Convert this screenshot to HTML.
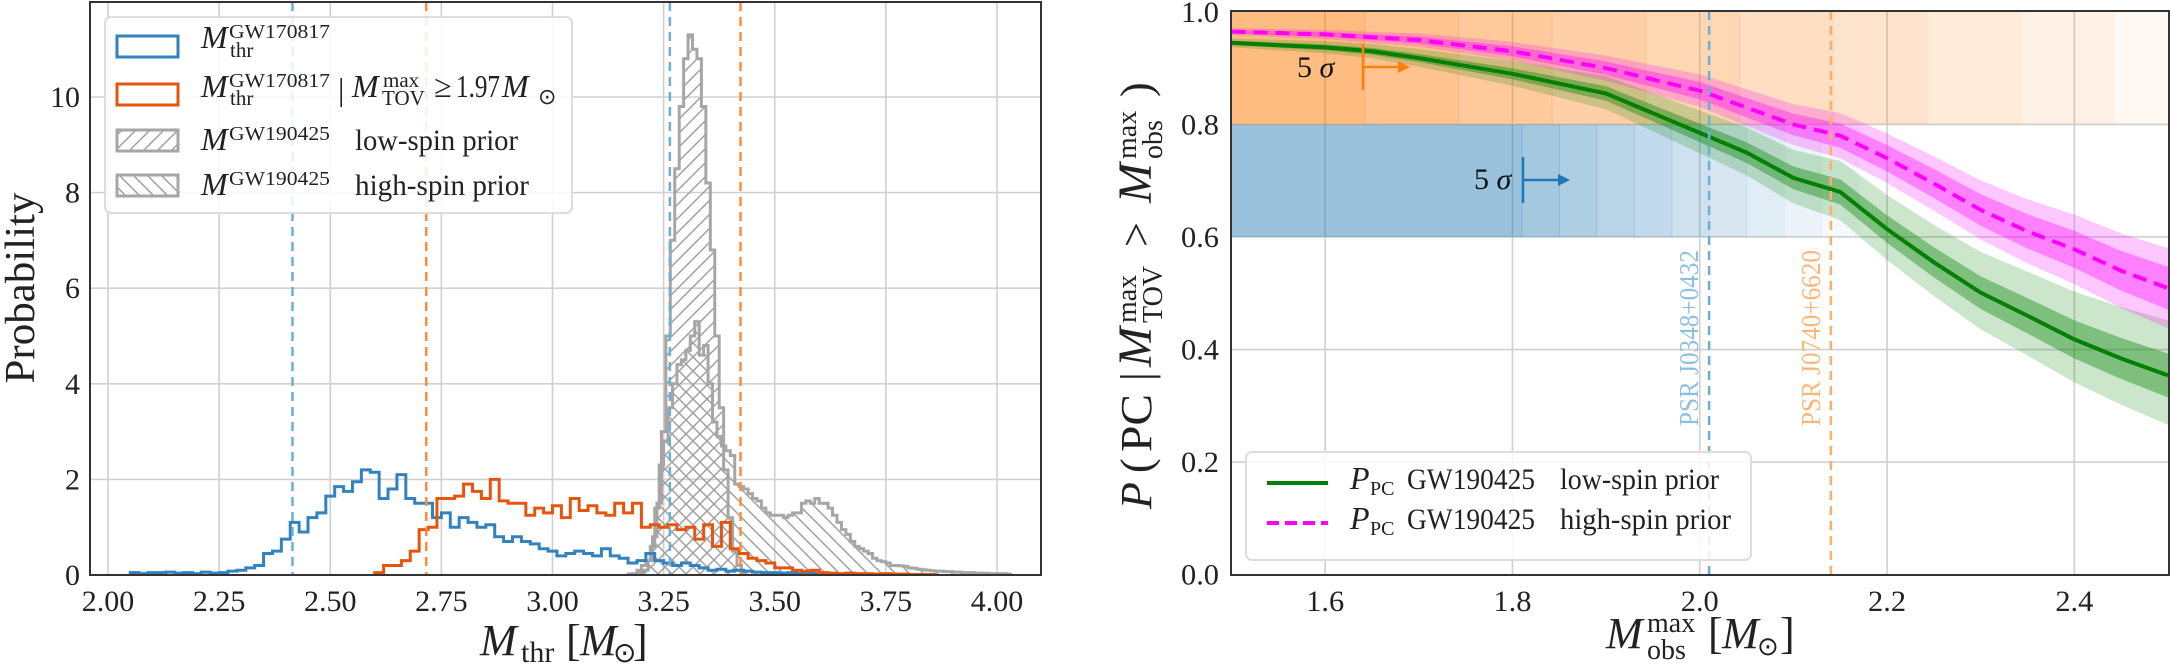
<!DOCTYPE html>
<html><head><meta charset="utf-8"><style>
html,body{margin:0;padding:0;background:#fff;}
svg{display:block;font-family:"Liberation Serif",serif;}
</style></head><body>
<svg id="s" width="2170" height="665" viewBox="0 0 2170 665" xmlns="http://www.w3.org/2000/svg">
<defs>
<pattern id="hf" patternUnits="userSpaceOnUse" width="14" height="14"><path d="M-2,2 L2,-2 M0,14 L14,0 M12,16 L16,12" stroke="#a0a0a0" stroke-width="1.5"/></pattern>
<pattern id="hb" patternUnits="userSpaceOnUse" width="14" height="14"><path d="M-2,12 L2,16 M0,0 L14,14 M12,-2 L16,2" stroke="#a0a0a0" stroke-width="1.5"/></pattern>
<clipPath id="cl"><rect x="90" y="2" width="951" height="573"/></clipPath>
<clipPath id="cr"><rect x="1231" y="11" width="938" height="564"/></clipPath>
</defs>
<g id="g"></g>
</svg>
<script>
let H="";
const LX=v=>108+(v-2)*444.5, LY=p=>575-p*47.8;
const RX=v=>1231.5+(v-1.5)*936.5, RY=p=>574.6-p*562.7;
function step(s,w,vals){let d=`M${LX(s)},${LY(0)}`;vals.forEach((v,i)=>{d+=`L${LX(s+i*w)},${LY(v)}L${LX(s+(i+1)*w)},${LY(v)}`});return d+`L${LX(s+vals.length*w)},${LY(0)}`;}
for(let v=2;v<=4.001;v+=0.25)H+=`<line x1="${LX(v)}" y1="2" x2="${LX(v)}" y2="575" stroke="#d0d0d0" stroke-width="1.6"/>`;
for(let p=2;p<=10;p+=2)H+=`<line x1="90" y1="${LY(p)}" x2="1041" y2="${LY(p)}" stroke="#d0d0d0" stroke-width="1.6"/>`;
H+=`<g clip-path="url(#cl)">`;
const low=[0.03,0.05,0.1,0.3,0.8,1.5,3.0,5.0,7.0,8.5,9.8,10.8,11.3,11.0,10.8,9.8,8.2,6.8,5.0,3.5,2.2,1.2,0.5,0.2,0.05];
const high=[0.02,0.03,0.1,0.2,0.3,0.6,1.4,2.3,2.8,3.5,4.0,4.4,4.5,4.7,5.0,5.3,4.6,4.8,4.0,3.2,2.9,2.7,2.6,2.5,1.9,1.85,1.8,1.7,1.6,1.55,1.4,1.3,1.25,1.25,1.25,1.2,1.25,1.3,1.3,1.5,1.55,1.5,1.6,1.5,1.5,1.4,1.25,1.1,0.95,0.85,0.7,0.6,0.55,0.5,0.45,0.35,0.3,0.28,0.25,0.2,0.2,0.19,0.18,0.15,0.14,0.12,0.11,0.1,0.09,0.08,0.08,0.07,0.07,0.06,0.06,0.05,0.05,0.05,0.04,0.04,0.04,0.03,0.03,0.03,0.03,0.02];
H+=`<path d="${step(3.185,0.01,low)}" fill="url(#hf)" stroke="#a6a6a6" stroke-width="3"/>`;
H+=`<path d="${step(3.17,0.01,high)}" fill="url(#hb)" stroke="#a6a6a6" stroke-width="3"/>`;
const blue=[0.05,0.03,0.05,0.05,0.06,0.04,0.05,0.03,0.06,0.04,0.05,0.08,0.1,0.15,0.2,0.45,0.5,0.75,1.1,0.9,1.2,1.3,1.65,1.85,1.75,1.95,2.2,2.15,1.6,1.8,2.1,1.6,1.5,1.5,1.2,1.3,1.0,1.2,1.1,1.0,1.05,0.8,0.7,0.8,0.7,0.65,0.55,0.5,0.4,0.45,0.5,0.45,0.4,0.55,0.4,0.35,0.25,0.3,0.45,0.3,0.25,0.2,0.25,0.2,0.15,0.1,0.12,0.08,0.1,0.08,0.06,0.05,0.05,0.04,0.05,0.03,0.04,0.03,0.03,0.02,0.02,0.01];
const orng=[0.05,0.2,0.2,0.3,0.5,0.95,1.0,1.6,1.6,1.65,1.9,1.75,1.6,2.0,1.55,1.5,1.5,1.25,1.4,1.3,1.45,1.2,1.6,1.35,1.45,1.3,1.25,1.5,1.3,1.5,1.0,1.05,1.0,1.05,0.95,1.0,0.75,1.05,0.6,1.1,0.55,0.45,0.35,0.3,0.25,0.15,0.15,0.1,0.08,0.1,0.05,0.04,0.03,0.04,0.03,0.03,0.02,0.03,0.02,0.02,0.01,0.01,0.01];
H+=`<path d="${step(2.05,0.02,blue)}" fill="none" stroke="#3182bd" stroke-width="3"/>`;
H+=`<path d="${step(2.60,0.02,orng)}" fill="none" stroke="#e6550d" stroke-width="3"/>`;
[[2.415,"#6baed6"],[3.264,"#6baed6"],[2.716,"#fd8d3c"],[3.423,"#fd8d3c"]].forEach(([v,c])=>H+=`<line x1="${LX(v)}" y1="2" x2="${LX(v)}" y2="575" stroke="${c}" stroke-width="2.5" stroke-dasharray="9,6"/>`);
H+=`</g><rect x="90" y="2" width="951" height="573" fill="none" stroke="#333" stroke-width="2"/>`;
for(let i=0;i<=8;i++){const v=2+i*0.25;H+=`<text x="${LX(v)}" y="611" font-size="30" text-anchor="middle" fill="#222">${v.toFixed(2)}</text>`;}
for(let p=0;p<=10;p+=2)H+=`<text x="80" y="${LY(p)+10}" font-size="30" text-anchor="end" fill="#222">${p}</text>`;
H+=`<text transform="translate(34,288) rotate(-90)" font-size="42" text-anchor="middle" textLength="191" lengthAdjust="spacingAndGlyphs" fill="#222">Probability</text>`;
H+=`<text y="655" font-size="44" fill="#222"><tspan x="480" font-style="italic">M</tspan><tspan x="521" y="662" font-size="30">thr</tspan><tspan x="566" y="655">[</tspan><tspan x="580" font-style="italic">M</tspan><tspan x="613" y="662" font-size="28">⊙</tspan><tspan x="633" y="655">]</tspan></text>`;
H+=`<rect x="105" y="17" width="467" height="196" rx="6" fill="#fff" fill-opacity="0.85" stroke="#ddd" stroke-width="2"/>`;
H+=`<rect x="117" y="36" width="61" height="21" fill="none" stroke="#3182bd" stroke-width="3"/>`;
H+=`<rect x="117" y="84" width="61" height="21" fill="none" stroke="#e6550d" stroke-width="3"/>`;
H+=`<rect x="117" y="130" width="61" height="21" fill="url(#hf)" stroke="#a6a6a6" stroke-width="3"/>`;
H+=`<rect x="117" y="175" width="61" height="21" fill="url(#hb)" stroke="#a6a6a6" stroke-width="3"/>`;
const T=(x,y,s,t,it,extra="")=>`<text x="${x}" y="${y}" font-size="${s}" fill="#222" ${it?'font-style="italic"':''} ${extra}>${t}</text>`;
const LA='lengthAdjust="spacingAndGlyphs"';
H+=T(201,48,32,"M",1)+T(229,38,20,"GW170817",0,'textLength="101" '+LA)+T(230,57,21,"thr");
H+=T(201,97,32,"M",1)+T(229,87,20,"GW170817",0,'textLength="101" '+LA)+T(230,105,21,"thr");
H+=T(338,100,32,"|")+T(352,97,32,"M",1)+T(383,87,21,"max")+T(382,105,21,"TOV")+T(434,97,32,"≥")+T(456,97,32,"1.97",0,'textLength="44" '+LA)+T(502,97,32,"M",1)+T(538,104,22,"⊙");
H+=T(201,150,32,"M",1)+T(229,140,20,"GW190425",0,'textLength="101" '+LA)+T(355,150,30,"low-spin prior",0,'textLength="163" '+LA);
H+=T(201,195,32,"M",1)+T(229,185,20,"GW190425",0,'textLength="101" '+LA)+T(355,195,30,"high-spin prior",0,'textLength="174" '+LA);
// RIGHT
for(let v=1.6;v<=2.41;v+=0.2)H+=`<line x1="${RX(v)}" y1="11" x2="${RX(v)}" y2="575" stroke="#d0d0d0" stroke-width="1.6"/>`;
for(let p=0.2;p<=0.81;p+=0.2)H+=`<line x1="1231" y1="${RY(p)}" x2="2169" y2="${RY(p)}" stroke="#d0d0d0" stroke-width="1.6"/>`;
H+=`<g clip-path="url(#cr)">`;
for(let k=0;k<10;k++){const a=k==0?1.5:1.642+(k-1)*0.1,b=1.642+k*0.1;const al=0.52*(1-k/10);
H+=`<rect x="${RX(a)}" y="${RY(1)}" width="${RX(b)-RX(a)+0.5}" height="${RY(0.8)-RY(1)}" fill="rgb(255,127,14)" fill-opacity="${al}"/>`;}
for(let k=0;k<10;k++){const a=k==0?1.5:1.81+(k-1)*0.04,b=1.81+k*0.04;const al=0.45*(1-k/10);
H+=`<rect x="${RX(a)}" y="${RY(0.8)}" width="${RX(b)-RX(a)+0.5}" height="${RY(0.6)-RY(0.8)}" fill="rgb(31,119,180)" fill-opacity="${al}"/>`;}
const xs=[1.5,1.6,1.65,1.7,1.8,1.9,1.95,2.0,2.05,2.1,2.15,2.2,2.25,2.3,2.35,2.4,2.45,2.5];
const gr=[0.945,0.937,0.93,0.918,0.89,0.855,0.82,0.785,0.75,0.705,0.68,0.614,0.555,0.501,0.46,0.418,0.384,0.354];
const mg=[0.965,0.96,0.955,0.95,0.93,0.9,0.88,0.86,0.83,0.8,0.78,0.74,0.695,0.648,0.61,0.578,0.54,0.509];
function band(ys,f){let up=xs.map((x,i)=>`${RX(x)},${RY(ys[i]+f(x)[1])}`),dn=xs.map((x,i)=>`${RX(x)},${RY(ys[i]-f(x)[0])}`).reverse();return "M"+up.join("L")+"L"+dn.join("L")+"Z";}
const t=x=>Math.max(0,(x-1.5))/1.0;
H+=`<path d="${band(gr,x=>[0.008+0.08*t(x)**1.5,0.008+0.09*t(x)**1.5])}" fill="green" fill-opacity="0.2"/>`;
H+=`<path d="${band(gr,x=>[0.004+0.035*t(x)**1.5,0.004+0.035*t(x)**1.5])}" fill="green" fill-opacity="0.38"/>`;
H+=`<path d="${band(mg,x=>[0.006+0.065*t(x)**1.5,0.006+0.065*t(x)**1.5])}" fill="#ff00ff" fill-opacity="0.22"/>`;
H+=`<path d="${band(mg,x=>[0.003+0.035*t(x)**1.5,0.003+0.035*t(x)**1.5])}" fill="#ff00ff" fill-opacity="0.35"/>`;
H+=`<polyline points="${xs.map((x,i)=>RX(x)+","+RY(gr[i])).join(" ")}" fill="none" stroke="#008000" stroke-width="4"/>`;
H+=`<polyline points="${xs.map((x,i)=>RX(x)+","+RY(mg[i])).join(" ")}" fill="none" stroke="#ff00ff" stroke-width="4" stroke-dasharray="14,8"/>`;
H+=`<line x1="${RX(2.01)}" y1="11" x2="${RX(2.01)}" y2="575" stroke="#6baed6" stroke-width="2.5" stroke-dasharray="9,6"/>`;
H+=`<line x1="${RX(2.14)}" y1="11" x2="${RX(2.14)}" y2="575" stroke="#fdae6b" stroke-width="2.5" stroke-dasharray="9,6"/>`;
H+=`</g><rect x="1231" y="11" width="938" height="564" fill="none" stroke="#333" stroke-width="2"/>`;
H+=`<text x="1297" y="77" font-size="30" fill="#111">5 <tspan font-style="italic">σ</tspan></text>`;
H+=`<line x1="1363" y1="44" x2="1363" y2="90" stroke="#ff7f0e" stroke-width="2.5"/><line x1="1363" y1="67" x2="1400" y2="67" stroke="#ff7f0e" stroke-width="2.5"/><path d="M1398,61 L1410,67 L1398,73 Z" fill="#ff7f0e"/>`;
H+=`<text x="1474" y="189" font-size="30" fill="#111">5 <tspan font-style="italic">σ</tspan></text>`;
H+=`<line x1="1523" y1="157" x2="1523" y2="203" stroke="#1f77b4" stroke-width="2.5"/><line x1="1523" y1="180" x2="1560" y2="180" stroke="#1f77b4" stroke-width="2.5"/><path d="M1558,174 L1570,180 L1558,186 Z" fill="#1f77b4"/>`;
H+=`<text transform="translate(1698,338) rotate(-90)" font-size="27" text-anchor="middle" fill="#8fbfe0" textLength="176" ${LA}>PSR J0348+0432</text>`;
H+=`<text transform="translate(1820,338) rotate(-90)" font-size="27" text-anchor="middle" fill="#fdb678" textLength="176" ${LA}>PSR J0740+6620</text>`;
[1.6,1.8,2.0,2.2,2.4].forEach(v=>H+=`<text x="${RX(v)}" y="611" font-size="30" text-anchor="middle" fill="#222" textLength="38" ${LA}>${v.toFixed(1)}</text>`);
[0,0.2,0.4,0.6,0.8,1.0].forEach(p=>H+=`<text x="1219" y="${RY(p)+10}" font-size="30" text-anchor="end" fill="#222" textLength="38" ${LA}>${p.toFixed(1)}</text>`);
H+=`<text y="648" font-size="44" fill="#222"><tspan x="1606" font-style="italic">M</tspan><tspan x="1647" y="632" font-size="28">max</tspan><tspan x="1647" y="659" font-size="28">obs</tspan><tspan x="1708" y="648">[</tspan><tspan x="1722" font-style="italic">M</tspan><tspan x="1757" y="655" font-size="26">⊙</tspan><tspan x="1780" y="648">]</tspan></text>`;
H+=`<g transform="translate(1151,509) rotate(-90)" fill="#222" font-size="44"><text x="0" y="0" font-style="italic">P</text><text x="36" y="0">(</text><text x="57" y="0" textLength="58" ${LA}>PC</text><text x="128" y="0">|</text><text x="142" y="0" font-style="italic" font-size="48">M</text><text x="186" y="-15" font-size="28">max</text><text x="186" y="11" font-size="28">TOV</text><text x="262" y="0">&gt;</text><text x="306" y="0" font-style="italic" font-size="48">M</text><text x="350" y="-15" font-size="28">max</text><text x="350" y="11" font-size="28">obs</text><text x="412" y="0">)</text></g>`;
H+=`<rect x="1246" y="452" width="505" height="108" rx="6" fill="#fff" fill-opacity="0.85" stroke="#ddd" stroke-width="2"/>`;
H+=`<line x1="1267" y1="483" x2="1328" y2="483" stroke="#008000" stroke-width="4"/><line x1="1267" y1="523" x2="1328" y2="523" stroke="#ff00ff" stroke-width="4" stroke-dasharray="12,6"/>`;
[[489,"low-spin prior",159],[529,"high-spin prior",171]].forEach(([y,s,l])=>{H+=T(1350,y,32,"P",1)+T(1370,y+6,20,"PC")+T(1407,y,30,"GW190425",0,'textLength="128" '+LA)+T(1560,y,30,s,0,`textLength="${l}" `+LA);});
document.getElementById("g").innerHTML=H;
</script>
</body></html>
